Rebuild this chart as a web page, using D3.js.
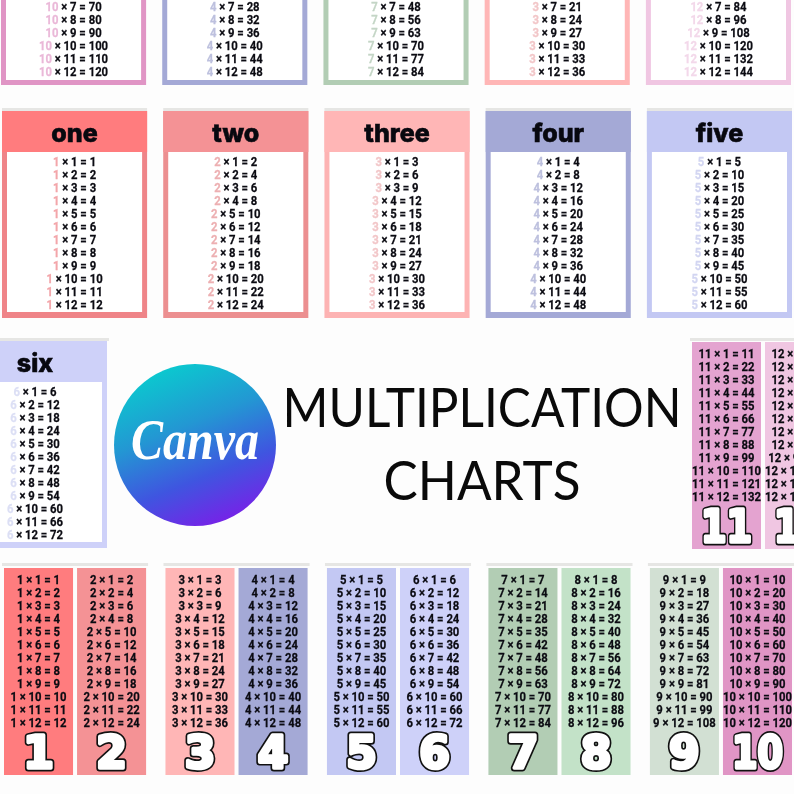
<!DOCTYPE html>
<html>
<head>
<meta charset="utf-8">
<script src="https://cdn.jsdelivr.net/npm/d3@7"></script>
<style>
html, body { margin: 0; padding: 0; background: #fdfdfd; overflow: hidden; }
svg { display: block; filter: blur(0.3px); }
</style>
</head>
<body>
<svg id="chart" width="794" height="794"></svg>
<script>
// values (7 x 7 really is printed as 48 there)
var multipliers = [1, 2, 3, 4, 5, 6, 7, 8, 9, 10, 11, 12];
var table1 = [1, 2, 3, 4, 5, 6, 7, 8, 9, 10, 11, 12];
var table2 = [2, 4, 6, 8, 10, 12, 14, 16, 18, 20, 22, 24];
var table3 = [3, 6, 9, 12, 15, 18, 21, 24, 27, 30, 33, 36];
var table4 = [4, 8, 12, 16, 20, 24, 28, 32, 36, 40, 44, 48];
var table5 = [5, 10, 15, 20, 25, 30, 35, 40, 45, 50, 55, 60];
var table6 = [6, 12, 18, 24, 30, 36, 42, 48, 54, 60, 66, 72];
var table7 = [7, 14, 21, 28, 35, 42, 48, 56, 63, 70, 77, 84];
var table8 = [8, 16, 24, 32, 40, 48, 56, 64, 72, 80, 88, 96];
var table9 = [9, 18, 27, 36, 45, 54, 63, 72, 81, 90, 99, 108];
var table10 = [10, 20, 30, 40, 50, 60, 70, 80, 90, 100, 110, 120];
var table11 = [11, 22, 33, 44, 55, 66, 77, 88, 99, 110, 121, 132];
var table12 = [12, 24, 36, 48, 60, 72, 84, 96, 108, 120, 132, 144];
var tables = [null, table1, table2, table3, table4, table5, table6, table7, table8, table9, table10, table11, table12];

var topRow = [10, 4, 7, 3, 12];
var middleRow = [1, 2, 3, 4, 5];
var stripPairs = [[1, 2], [3, 4], [5, 6], [7, 8], [9, 10]];
var wordNames = ["", "one", "two", "three", "four", "five", "six"];
var titleLines = ["MULTIPLICATION", "CHARTS"];

var cardColor = ["", "#ff7c7e", "#f49295", "#ffb6b6", "#a4a9d6", "#c3c8f3", "#ced1f9", "#b2cdb4", "#c3e2c8", "#d2e0d3", "#e095c5", "#e4a3d0", "#f0c6e2"];
var edgeColor = ["", "#ef8488", "#ec8f90", "#fdb3b3", "#a4a9d6", "#c3c8f3", "#ced1f9", "#b2cdb4", "#c3e2c8", "#d2e0d3", "#e095c5", "#e4a3d0", "#f0c6e2"];
var tintColor = ["", "#f3a6aa", "#edb0b2", "#f2c6c8", "#bdc0de", "#d3d6f2", "#dcdff5", "#c4d6c6", "#d2e4d5", "#dde8de", "#eab8d8", "#eebbdc", "#f3d8ea"];

var svg = d3.select("#chart");
var defs = svg.append("defs");

svg.append("rect").attr("width", 794).attr("height", 794).attr("fill", "#fdfdfd");

var topX = d3.scaleBand().domain(topRow).range([1, 791]).paddingInner(0.1);
var middleX = d3.scaleBand().domain(middleRow).range([2, 792]).paddingInner(0.1);
var pairX = d3.scaleBand().domain(d3.range(stripPairs.length)).range([4, 792]).paddingInner(0.12);
var stripX = d3.scaleBand().domain([0, 1]).range([0, pairX.bandwidth()]).paddingInner(0.055);

// one line per multiplier, squeezed sideways since no narrow rounded font is installed
function drawRows(g, n, cx, list, y, tint) {
	var rows = g.selectAll("text.row")
		.data(list)
		.enter()
		.append("text")
		.attr("class", "row")
		.attr("transform", d => "translate(" + cx + "," + y(d) + ") scale(0.87,1)")
		.attr("dy", "0.36em")
		.attr("text-anchor", "middle")
		.attr("font-family", "Roboto, sans-serif")
		.attr("font-weight", 700)
		.attr("font-size", 13)
		.attr("fill", "#0b0b12");
	rows.append("tspan").attr("fill", tint).attr("stroke", tint).attr("stroke-width", 0.25).text(n);
	rows.append("tspan").attr("stroke", "#0b0b12").attr("stroke-width", 0.25).text(d => " × " + d + " = " + tables[n][d - 1]);
}

// card with the word header and white panel
function drawCard(x, width, n, top) {
	var g = svg.append("g").attr("transform", "translate(" + x + "," + top + ")");
	g.append("rect").attr("width", width).attr("height", 207).attr("fill", edgeColor[n]);
	g.append("rect").attr("width", width).attr("height", 41).attr("fill", cardColor[n]);
	g.append("rect").attr("x", 5).attr("y", 41).attr("width", width - 10).attr("height", 160).attr("fill", "#fff");
	g.append("text")
		.attr("x", width / 2)
		.attr("y", 31)
		.attr("text-anchor", "middle")
		.attr("font-family", "Inter, sans-serif")
		.attr("font-weight", 800)
		.attr("font-size", 25)
		.attr("fill", "#08080f")
		.attr("stroke", "#08080f")
		.attr("stroke-width", 0.6)
		.text(wordNames[n]);
	var y = d3.scaleLinear().domain([1, 12]).range([50, 193]);
	drawRows(g, n, width / 2, multipliers, y, tintColor[n]);
}

// big number, black outline under a fattened white glyph
function bigNumber(g, n, cx, baseline) {
	[["#111", 7], ["#fff", 3.6]].forEach(layer => {
		var t = g.append("text")
			.attr("x", cx)
			.attr("y", baseline)
			.attr("text-anchor", "middle")
			.attr("font-family", "DejaVu Sans, sans-serif")
			.attr("font-weight", 700)
			.attr("font-size", 44)
			.attr("fill", "#fff")
			.attr("stroke", layer[0])
			.attr("stroke-width", layer[1])
			.attr("stroke-linejoin", "round")
			.text(n);
		if (n > 9) t.attr("textLength", 51).attr("lengthAdjust", "spacingAndGlyphs");
	});
}

// column with the full table on colour and a big outlined number
function drawStrip(x, width, n, top) {
	var g = svg.append("g").attr("transform", "translate(" + x + "," + top + ")");
	g.append("rect").attr("width", width).attr("height", 207).attr("fill", cardColor[n]);
	var y = d3.scaleLinear().domain([1, 12]).range([11, 154]);
	drawRows(g, n, width / 2, multipliers, y, "#0b0b12");
	bigNumber(g, n, width / 2, 200);
}

// shelves above each row of cards
function shelf(x, y, width) {
	svg.append("rect").attr("x", x).attr("y", y).attr("width", width).attr("height", 3).attr("fill", "#e6e6e4");
}
middleRow.forEach(n => shelf(middleX(n), 108, middleX.bandwidth()));
stripPairs.forEach((p, i) => shelf(pairX(i) - 2, 563, pairX.bandwidth() + 4));
shelf(0, 338, 109);
shelf(690, 338, 104);

// top row, cut off by the edge of the picture
var topRows = multipliers.slice(6);
var topY = d3.scaleLinear().domain([7, 12]).range([6.5, 71]);
topRow.forEach(n => {
	var g = svg.append("g").attr("transform", "translate(" + topX(n) + ",0)");
	var w = topX.bandwidth();
	g.append("rect").attr("y", -10).attr("width", w).attr("height", 95).attr("fill", cardColor[n]);
	g.append("rect").attr("x", 5).attr("y", -10).attr("width", w - 10).attr("height", 90).attr("fill", "#fff");
	drawRows(g, n, w / 2, topRows, topY, tintColor[n]);
});

middleRow.forEach(n => drawCard(middleX(n), middleX.bandwidth(), n, 111));
drawCard(-37, 144, 6, 341);

stripPairs.forEach((pair, i) => {
	pair.forEach((n, j) => drawStrip(pairX(i) + stripX(j), stripX.bandwidth(), n, 568));
});
drawStrip(692, 69, 11, 342);
drawStrip(765, 69, 12, 342);

// Canva badge
var grad = defs.append("linearGradient")
	.attr("id", "badge")
	.attr("x1", "0.3").attr("y1", "0.05")
	.attr("x2", "0.68").attr("y2", "1");
grad.append("stop").attr("offset", "0").attr("stop-color", "#0cc6cf");
grad.append("stop").attr("offset", "0.35").attr("stop-color", "#2397d3");
grad.append("stop").attr("offset", "0.68").attr("stop-color", "#3f55e0");
grad.append("stop").attr("offset", "1").attr("stop-color", "#7a1fe8");

svg.append("circle").attr("cx", 195).attr("cy", 445).attr("r", 81).attr("fill", "url(#badge)");
svg.append("text")
	.attr("x", 195)
	.attr("y", 459)
	.attr("text-anchor", "middle")
	.attr("font-family", "Liberation Serif, serif")
	.attr("font-style", "italic")
	.attr("font-weight", 700)
	.attr("font-size", 56)
	.attr("textLength", 128)
	.attr("lengthAdjust", "spacingAndGlyphs")
	.attr("fill", "#fff")
	.text("Canva");

// title
var titleY = d3.scalePoint().domain(titleLines).range([427, 500]);
var titleWidth = d3.scaleOrdinal().domain(titleLines).range([399, 197]);
svg.selectAll("text.title")
	.data(titleLines)
	.enter()
	.append("text")
	.attr("class", "title")
	.attr("x", 482)
	.attr("y", d => titleY(d))
	.attr("text-anchor", "middle")
	.attr("font-family", "Lato, sans-serif")
	.attr("font-size", 54)
	.attr("fill", "#0a0a0a")
	.attr("textLength", d => titleWidth(d))
	.attr("lengthAdjust", "spacingAndGlyphs")
	.text(d => d);
</script>
</body>
</html>
